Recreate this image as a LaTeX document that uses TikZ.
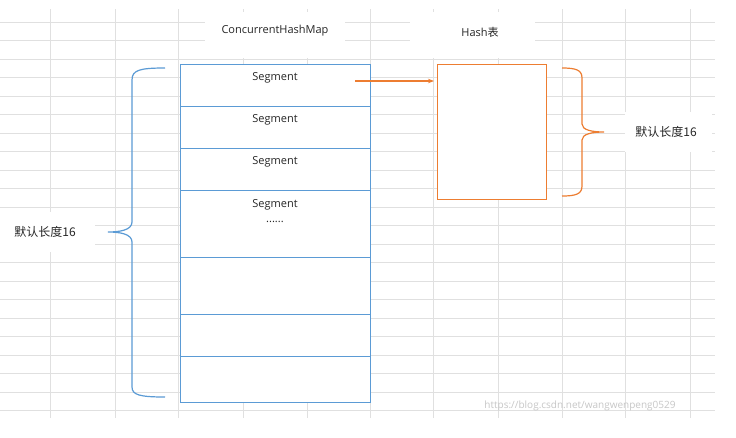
\documentclass[tikz,border=0pt]{standalone}
\usetikzlibrary{arrows.meta}
\usepackage{fontspec}
\setmainfont{Open Sans}
\newfontfamily\cjk{Noto Sans CJK SC}
\begin{document}
\begin{tikzpicture}[x=1pt,y=-1pt,
  grid/.style={draw=black!12,line width=0.6pt},
  lbl/.style={font=\fontsize{11}{12}\selectfont,text=black!85},
  blue line/.style={draw={rgb,255:red,91;green,155;blue,213},line width=1.2pt},
  orange line/.style={draw={rgb,255:red,237;green,125;blue,49},line width=1.2pt}]
\useasboundingbox (0,0) rectangle (736,437);
\fill[white] (0,0) rectangle (736,437);
% grid
\foreach \x in {50,115,178,243,307,370,433,498,562,625,690} \draw[grid] (\x,9) -- (\x,418);
\foreach \y in {22,40,59,77,96,114,133,151,170,188,207,225,244,262,281,299,318,336,355,373,392,410} \draw[grid] (0,\y) -- (715,\y);
% white patches behind labels
\fill[white] (205,12) rectangle (345,58);
\fill[white] (410,12) rectangle (535,58);
\fill[white] (0,212) rectangle (95,252);
\fill[white] (625,112) rectangle (712,152);
% segments column
\foreach \a/\b in {64/106,106/148,148/190,190/257,257/314,314/356,356/402}
  \draw[blue line,line width=1pt,fill=white] (180,\a) rectangle (370,\b);
\node[lbl] (chm) at (275,31) {ConcurrentHashMap};
\node[lbl] (s1) at (275,78) {Segment};
\node[lbl] (s2) at (275,120) {Segment};
\node[lbl] (s3) at (275,162) {Segment};
\node[lbl] (s4) at (275,205) {Segment};
\node[lbl] (dots) at (275,222) {......};
% hash table
\draw[orange line,line width=1pt,fill=white] (437,64) rectangle (546,199);
\node[lbl] (ht) at (480,32) {Hash{\cjk 表}};
\coordinate (a0) at (355,81);
\coordinate (a1) at (434,81);
\draw[orange line,-{Stealth[length=6pt]}] (a0) -- (a1);
% braces
\draw[blue line] (165,68) .. controls (140,68) and (132,70) .. (132,80) -- (132,222)
  .. controls (132,230) and (120,232) .. (108,232)
  .. controls (120,232) and (132,234) .. (132,242) -- (132,387)
  .. controls (132,395) and (140,397) .. (165,397);
\draw[orange line] (562,68) .. controls (576,68) and (582,70) .. (582,78) -- (582,124)
  .. controls (582,130) and (592,132) .. (604,132)
  .. controls (592,132) and (582,134) .. (582,140) -- (582,186)
  .. controls (582,194) and (576,196) .. (562,196);
\node[font=\cjk\fontsize{12}{14}\selectfont,text=black!85] (l1) at (45,232) {默认长度16};
\node[font=\cjk\fontsize{12}{14}\selectfont,text=black!85] (l2) at (666,132) {默认长度16};
\node[font=\fontsize{10}{11}\selectfont,text=black!22] (wm) at (580,406) {https://blog.csdn.net/wangwenpeng0529};
\end{tikzpicture}
\end{document}
